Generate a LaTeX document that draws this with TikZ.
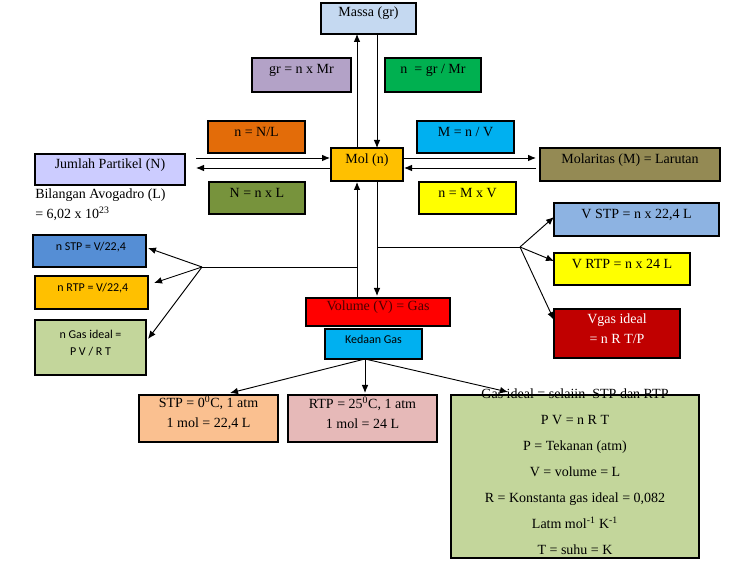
\documentclass[tikz,border=0pt]{standalone}
\usepackage{fontspec}
\setmainfont{Liberation Serif}
\newfontfamily\carlitofont{Carlito}
\usetikzlibrary{fit,arrows.meta}
\definecolor{cMassa}{HTML}{C5D9F1}
\definecolor{cLav}{HTML}{B3A2C7}
\definecolor{cGreen}{HTML}{00B050}
\definecolor{cOrange}{HTML}{E36C09}
\definecolor{cCyan}{HTML}{00B0F0}
\definecolor{cPeri}{HTML}{CCCCFF}
\definecolor{cGold}{HTML}{FFC000}
\definecolor{cOlive}{HTML}{948A54}
\definecolor{cMoss}{HTML}{77933C}
\definecolor{cYel}{HTML}{FFFF00}
\definecolor{cBlue}{HTML}{558ED5}
\definecolor{cSage}{HTML}{C3D69B}
\definecolor{cLBlue}{HTML}{8DB3E2}
\definecolor{cDRed}{HTML}{C00000}
\definecolor{cRed}{HTML}{FF0000}
\definecolor{cPeach}{HTML}{FAC090}
\definecolor{cRose}{HTML}{E6B9B8}
\tikzset{box/.style={draw=black,line width=0.8pt,inner sep=0pt,font=\fontsize{10.5}{15}\selectfont,align=left},
arr/.style={-{Latex[length=6pt,width=5pt]},line width=0.7pt},
ln/.style={line width=0.7pt}}
\begin{document}
\begin{tikzpicture}[x=0.75pt,y=-0.75pt]
\useasboundingbox[fill=white] (0,0) rectangle (743,570);
\node[box,fill=cMassa,fit={(321,3)(416,34)}] (massa) {Massa (gr)};
\node[box,fill=cLav,fit={(252,58)(351,92)}] (grmr) {gr = n x Mr};
\node[box,fill=cGreen,fit={(385,58)(481,92)}] (ngr) {n \ = gr / Mr};
\node[box,fill=cOrange,fit={(208,121)(305,153)}] (nNL) {n = N/L};
\node[box,fill=cCyan,fit={(417,121)(514,153)}] (MnV) {M = n / V};
\node[box,fill=cPeri,fit={(35,154)(185,185)}] (jp) {Jumlah Partikel (N)};
\node[box,fill=cGold,fit={(331,148)(403,181)}] (mol) {Mol (n)};
\node[box,fill=cOlive,fit={(540,148)(720,181)}] (molar) {Molaritas (M) = Larutan};
\node[box,fill=cMoss,fit={(209,182)(305,214)}] (NnL) {N = n x L};
\node[box,fill=cYel,fit={(419,182)(516,214)}] (nMV) {n = M x V};
\node[anchor=north west,inner sep=0pt,align=left,font=\fontsize{10.5}{15}\selectfont] (avo) at (35,189) {Bilangan Avogadro (L)\\= 6,02 x 10\textsuperscript{23}};
\node[box,fill=cBlue,font=\carlitofont\small,fit={(33,235)(146,267)}] (nstp) {\ n STP = V/22,4};
\node[box,fill=cGold,font=\carlitofont\small,fit={(35,276)(148,309)}] (nrtp) {\ n RTP = V/22,4};
\node[box,fill=cSage,font=\carlitofont\small,fit={(35,320)(146,375)}] (ngas) {n Gas ideal =\\[2pt]P V / R T};
\node[box,fill=cLBlue,fit={(554,203)(719,236)}] (vstp) {V STP = n x 22,4 L};
\node[box,fill=cYel,fit={(554,253)(690,285)}] (vrtp) {V RTP = n x 24 L};
\node[box,fill=cDRed,text=white,fit={(554,309)(680,358)}] (vgas) {Vgas ideal\\= n R T/P};
\node[box,fill=cRed,text=black!70!red,fit={(306,298)(450,326)}] (vol) {Volume (V) = Gas};
\node[box,fill=cCyan,font=\carlitofont\small,fit={(325,329)(422,359)}] (ked) {Kedaan Gas};
\node[box,fill=cPeach,fit={(139,395)(278,442)}] (stp) {STP = 0\textsuperscript{0}C, 1 atm\\1 mol = 22,4 L};
\node[box,fill=cRose,fit={(288,395)(437,442)}] (rtp) {RTP = 25\textsuperscript{0}C, 1 atm\\1 mol = 24 L};
\node[box,fill=cSage,fit={(451,395)(699,558)},font=\fontsize{10.5}{19.5}\selectfont] (gi) {Gas ideal = selaiin \ STP dan RTP\\P V = n R T\\P = Tekanan (atm)\\V = volume = L\\R = Konstanta gas ideal = 0,082\\Latm mol\textsuperscript{-1} K\textsuperscript{-1}\\T = suhu = K};
% vertical links
\draw[arr] (357,148) -- (357,34);
\draw[arr] (377,34) -- (377,148);
\draw[arr] (357,298) -- (357,182);
\draw[arr] (377,181) -- (377,296);
% horizontal links
\draw[arr] (196,158) -- (330,158);
\draw[arr] (330,168) -- (196,168);
\draw[arr] (404,158) -- (536,158);
\draw[arr] (536,168) -- (404,168);
% left branch
\coordinate (lb) at (202,267);
\draw[ln] (357,267) -- (lb);
\draw[arr] (lb) -- (148,248);
\draw[arr] (lb) -- (154,283);
\draw[arr] (lb) -- (148,339);
% right branch
\coordinate (rb) at (520,247);
\draw[ln] (377,247) -- (rb);
\draw[arr] (rb) -- (554,217);
\draw[arr] (rb) -- (554,261);
\draw[arr] (rb) -- (554,320);
% bottom branch
\coordinate (kb) at (365,359);
\draw[arr] (kb) -- (230,393);
\draw[arr] (kb) -- (365,393);
\draw[arr] (kb) -- (508,392);
\end{tikzpicture}
\end{document}
